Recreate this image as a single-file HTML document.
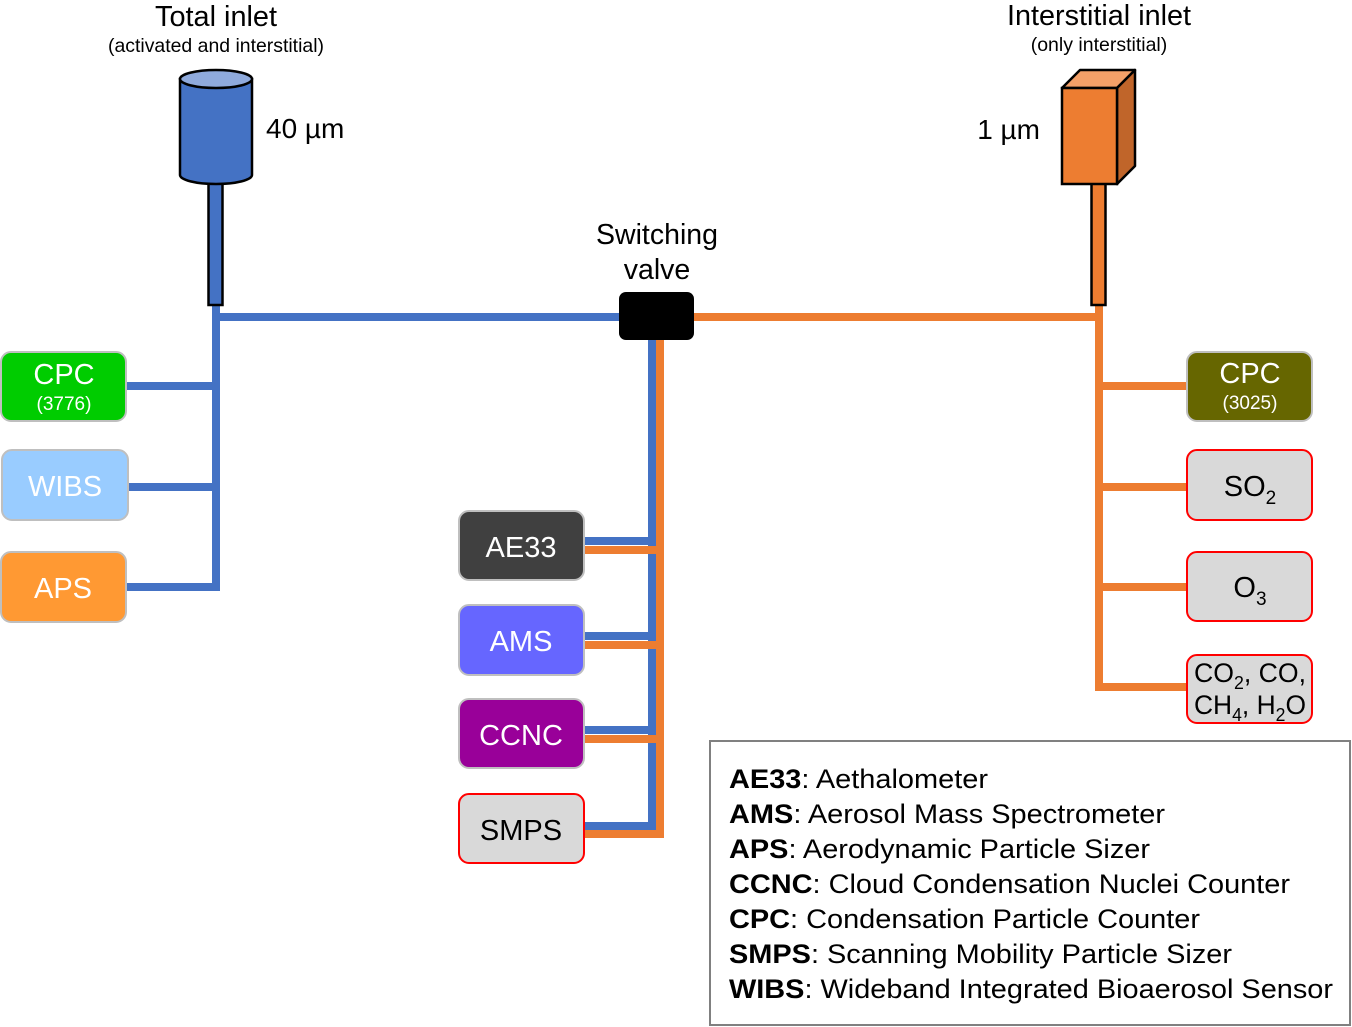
<!DOCTYPE html>
<html><head><meta charset="utf-8"><style>
html,body{margin:0;padding:0;background:#fff;}
svg{display:block;}
text{font-family:"Liberation Sans",Arial,sans-serif;}
</style></head><body>
<svg width="1352" height="1027" viewBox="0 0 1352 1027" xmlns="http://www.w3.org/2000/svg">
<!-- titles -->
<text x="216" y="26" font-size="29" text-anchor="middle" textLength="122" lengthAdjust="spacingAndGlyphs">Total inlet</text>
<text x="216" y="52" font-size="19.5" text-anchor="middle" textLength="216" lengthAdjust="spacingAndGlyphs">(activated and interstitial)</text>
<text x="1099" y="25" font-size="29" text-anchor="middle" textLength="184" lengthAdjust="spacingAndGlyphs">Interstitial inlet</text>
<text x="1099" y="51" font-size="19.5" text-anchor="middle">(only interstitial)</text>
<text x="266" y="138" font-size="28">40 µm</text>
<text x="1040" y="139" font-size="28" text-anchor="end">1 µm</text>
<text x="657" y="244" font-size="28.5" text-anchor="middle">Switching</text>
<text x="657" y="279" font-size="28.5" text-anchor="middle">valve</text>

<!-- blue lines -->
<g fill="#4472C4">
<rect x="212" y="300" width="8" height="291"/>
<rect x="212" y="313" width="410" height="8"/>
<rect x="124" y="382" width="92" height="8"/>
<rect x="126" y="483" width="90" height="8"/>
<rect x="124" y="583" width="96" height="8"/>
<rect x="648" y="335" width="8" height="495"/>
<rect x="582" y="537" width="74" height="8"/>
<rect x="582" y="632" width="74" height="8"/>
<rect x="582" y="726" width="74" height="8"/>
<rect x="582" y="822" width="74" height="8"/>
</g>
<!-- orange lines -->
<g fill="#ED7D31">
<rect x="690" y="313" width="413" height="8"/>
<rect x="1095" y="300" width="8" height="391"/>
<rect x="1095" y="382" width="94" height="8"/>
<rect x="1095" y="483" width="94" height="8"/>
<rect x="1095" y="583" width="94" height="8"/>
<rect x="1095" y="683" width="94" height="8"/>
<rect x="656" y="335" width="8" height="503"/>
<rect x="582" y="546" width="82" height="8"/>
<rect x="582" y="641" width="82" height="8"/>
<rect x="582" y="735" width="82" height="8"/>
<rect x="582" y="830" width="82" height="8"/>
</g>

<!-- valve -->
<rect x="619" y="292" width="75" height="48" rx="7" fill="#000"/>

<!-- cylinder -->
<rect x="208.5" y="182" width="14" height="123" fill="#4472C4" stroke="#000" stroke-width="2.5"/>
<path d="M180,79 L180,175 A36,9 0 0 0 252,175 L252,79 Z" fill="#4472C4" stroke="#000" stroke-width="2.5"/>
<ellipse cx="216" cy="79" rx="36" ry="9" fill="#8FAADC" stroke="#000" stroke-width="2.5"/>

<!-- cube -->
<rect x="1091.5" y="182" width="14" height="123" fill="#ED7D31" stroke="#000" stroke-width="2.5"/>
<polygon points="1062,88 1080,70 1135,70 1117,88" fill="#F4A068" stroke="#000" stroke-width="2.5" stroke-linejoin="round"/>
<polygon points="1117,88 1135,70 1135,166 1117,184" fill="#C0652A" stroke="#000" stroke-width="2.5" stroke-linejoin="round"/>
<rect x="1062" y="88" width="55" height="96" fill="#ED7D31" stroke="#000" stroke-width="2.5"/>

<!-- boxes -->
<g stroke="#BFBFBF" stroke-width="2">
<rect x="1" y="352" width="125" height="69" rx="10" fill="#00CC00"/>
<rect x="2" y="450" width="126" height="70" rx="10" fill="#99CCFF"/>
<rect x="1" y="552" width="125" height="70" rx="10" fill="#FF9933"/>
<rect x="459" y="511" width="125" height="69" rx="10" fill="#404040"/>
<rect x="459" y="605" width="125" height="70" rx="10" fill="#6666FF"/>
<rect x="459" y="699" width="125" height="69" rx="10" fill="#990099"/>
<rect x="1187" y="352" width="125" height="69" rx="10" fill="#666600"/>
</g>
<g stroke="#FF0000" stroke-width="2" fill="#D9D9D9">
<rect x="459" y="794" width="125" height="69" rx="10"/>
<rect x="1187" y="450" width="125" height="70" rx="10"/>
<rect x="1187" y="552" width="125" height="69" rx="10"/>
<rect x="1187" y="655" width="125" height="68" rx="10"/>
</g>

<g fill="#fff" text-anchor="middle" font-size="29">
<text x="64" y="384">CPC</text>
<text x="64" y="410" font-size="19">(3776)</text>
<text x="65" y="496">WIBS</text>
<text x="63" y="598">APS</text>
<text x="521" y="557">AE33</text>
<text x="521" y="651">AMS</text>
<text x="521" y="745">CCNC</text>
<text x="1250" y="383">CPC</text>
<text x="1250" y="409" font-size="19">(3025)</text>
</g>
<g fill="#000" text-anchor="middle" font-size="29">
<text x="521" y="840">SMPS</text>
<text x="1250" y="496">SO<tspan font-size="19" dy="8">2</tspan></text>
<text x="1250" y="597">O<tspan font-size="19" dy="8">3</tspan></text>
</g>
<g fill="#000" font-size="27">
<text x="1194" y="682" textLength="112" lengthAdjust="spacingAndGlyphs">CO<tspan font-size="18" dy="7">2</tspan><tspan dy="-7">, CO,</tspan></text>
<text x="1194" y="714" textLength="112" lengthAdjust="spacingAndGlyphs">CH<tspan font-size="18" dy="7">4</tspan><tspan dy="-7">, H</tspan><tspan font-size="18" dy="7">2</tspan><tspan dy="-7">O</tspan></text>
</g>

<!-- legend -->
<rect x="710" y="741" width="640" height="284" fill="#fff" stroke="#808080" stroke-width="2"/>
<g font-size="27" fill="#000">
<text x="729" y="788" textLength="259" lengthAdjust="spacingAndGlyphs"><tspan font-weight="bold">AE33</tspan>: Aethalometer</text>
<text x="729" y="823" textLength="436" lengthAdjust="spacingAndGlyphs"><tspan font-weight="bold">AMS</tspan>: Aerosol Mass Spectrometer</text>
<text x="729" y="858" textLength="421" lengthAdjust="spacingAndGlyphs"><tspan font-weight="bold">APS</tspan>: Aerodynamic Particle Sizer</text>
<text x="729" y="893" textLength="561" lengthAdjust="spacingAndGlyphs"><tspan font-weight="bold">CCNC</tspan>: Cloud Condensation Nuclei Counter</text>
<text x="729" y="928" textLength="471" lengthAdjust="spacingAndGlyphs"><tspan font-weight="bold">CPC</tspan>: Condensation Particle Counter</text>
<text x="729" y="963" textLength="503" lengthAdjust="spacingAndGlyphs"><tspan font-weight="bold">SMPS</tspan>: Scanning Mobility Particle Sizer</text>
<text x="729" y="998" textLength="604" lengthAdjust="spacingAndGlyphs"><tspan font-weight="bold">WIBS</tspan>: Wideband Integrated Bioaerosol Sensor</text>
</g>
</svg>
</body></html>
